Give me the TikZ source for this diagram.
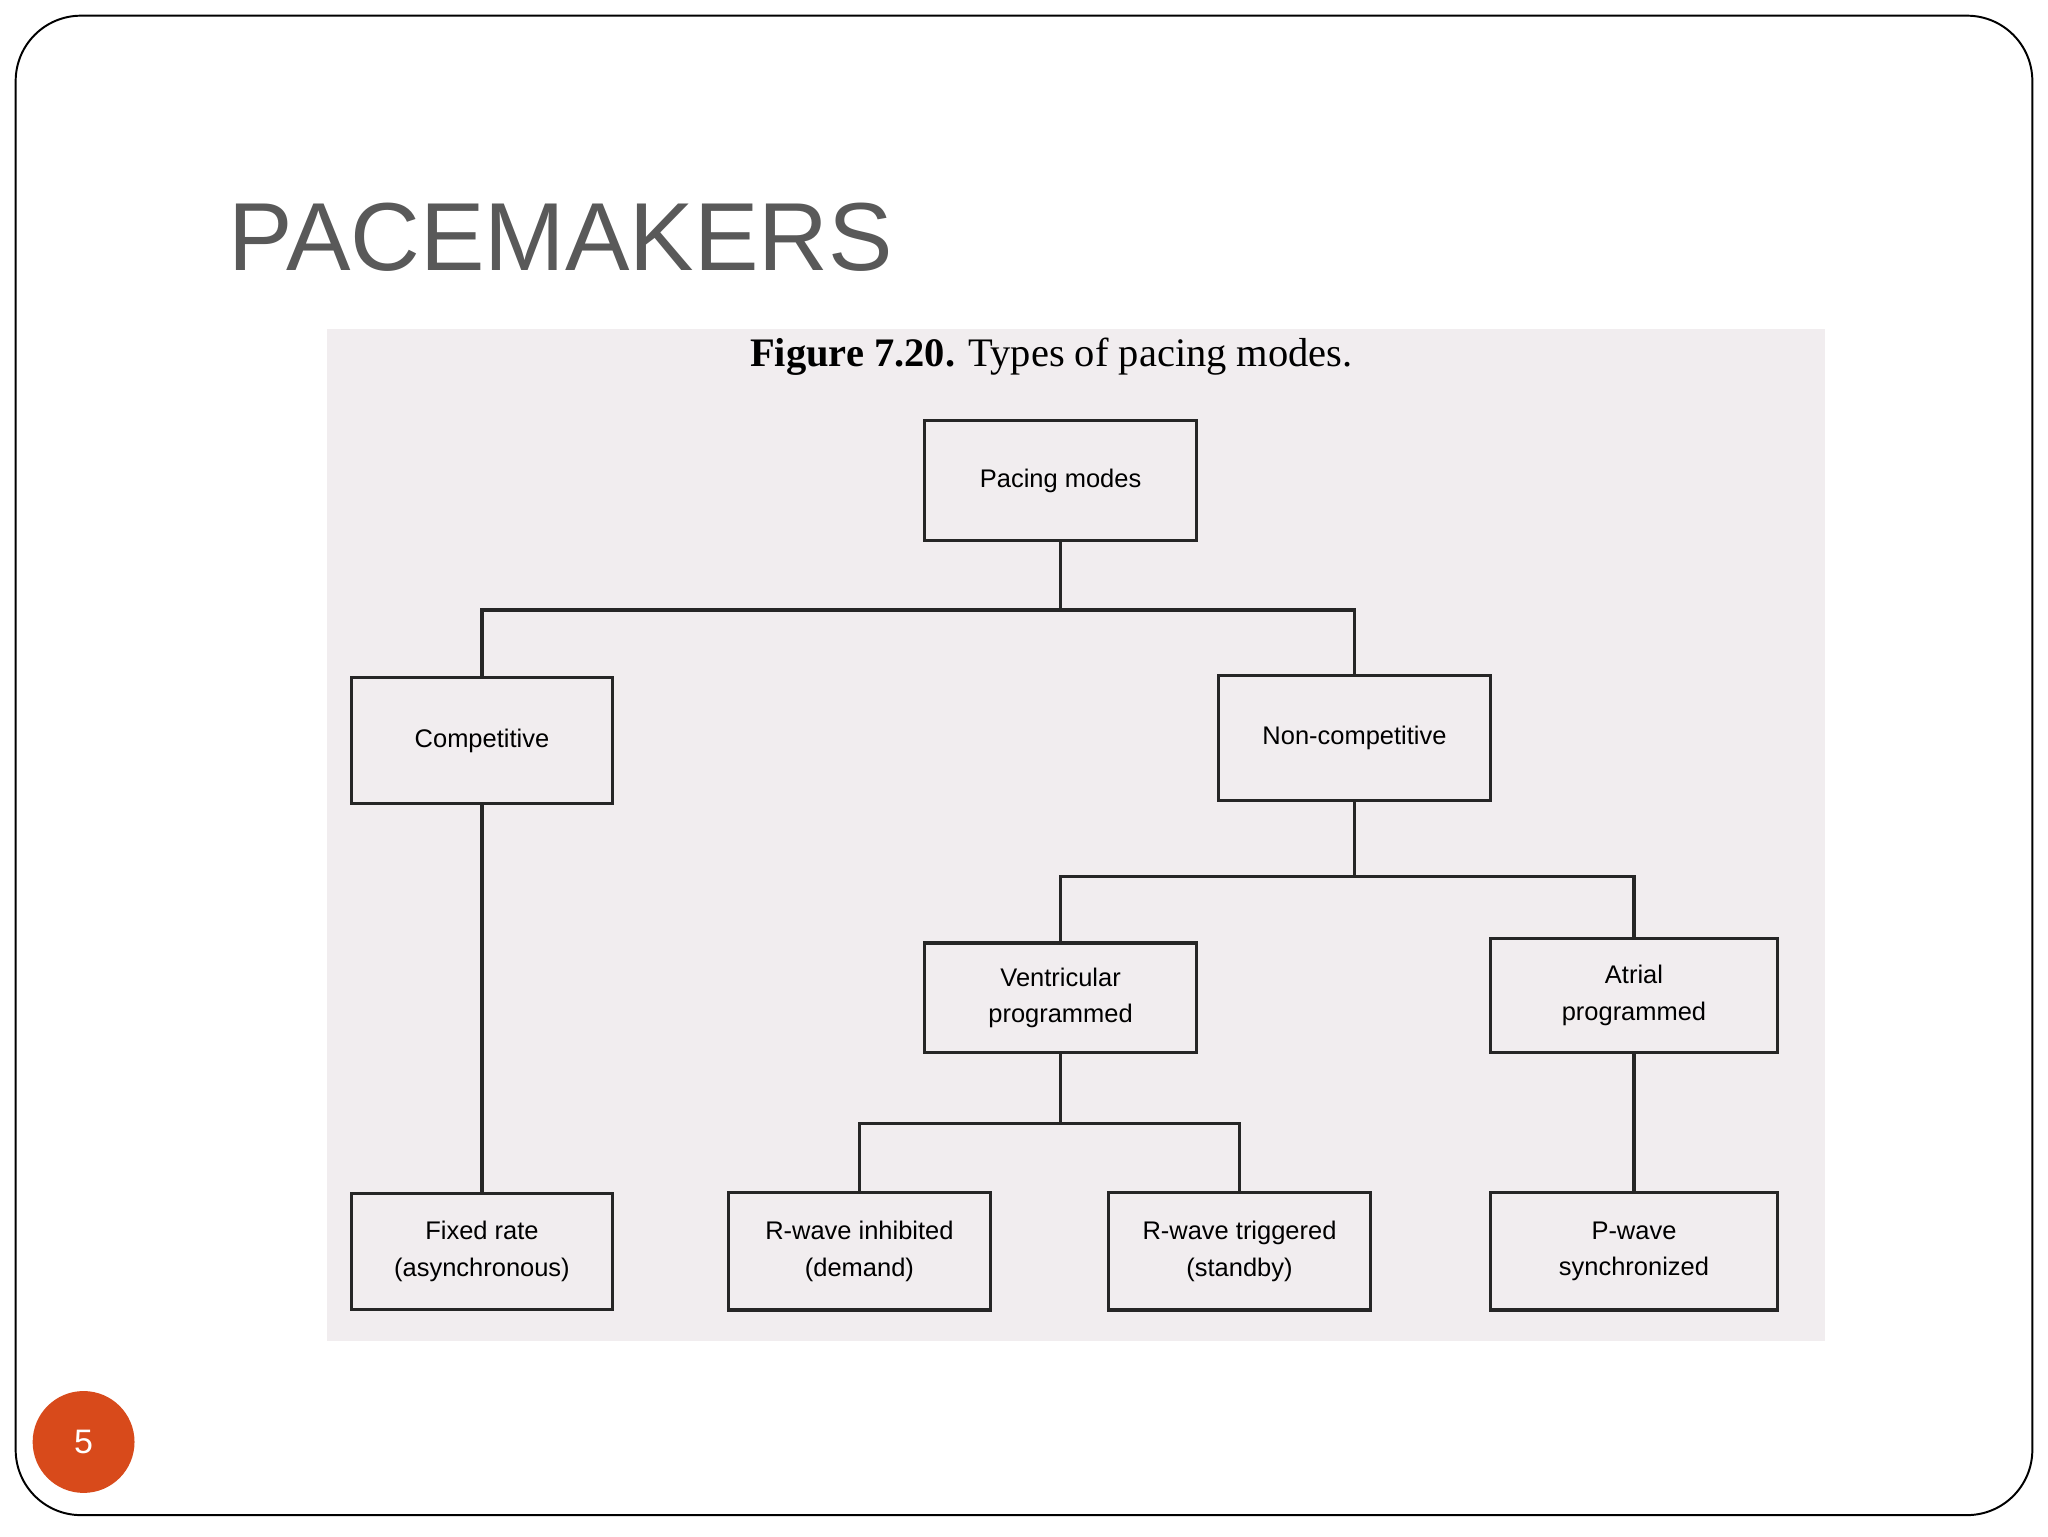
\documentclass[tikz,border=0pt]{standalone}
\usepackage{fontspec}
\setmainfont{Liberation Serif}
\newfontfamily\boxfont{Liberation Sans}
\definecolor{figbg}{HTML}{F1EDEF}
\definecolor{titlegray}{HTML}{595959}
\definecolor{badge}{HTML}{D84A1B}
\begin{document}
\begin{tikzpicture}[x=1pt,y=-1pt,
  mbox/.style={draw=black!85,line width=2.4pt,fill=figbg,align=center,font=\boxfont\fontsize{19.5}{28}\selectfont,inner sep=0pt},
  conn/.style={draw=black!85,line width=2.4pt}]
\useasboundingbox (0,0) rectangle (1568,1176);
\fill[white] (0,0) rectangle (1568,1176);
\draw[line width=1.5pt,rounded corners=50pt] (12,12) rectangle (1556,1160);
\node[anchor=base west,font=\boxfont\fontsize{74}{84}\selectfont,text=titlegray,inner sep=0pt] (title) at (175,207) {PACEMAKERS};
\fill[figbg] (250,252) rectangle (1397,1027);
\node[font=\fontsize{31}{36}\selectfont,inner sep=0pt] (cap) at (805,273) {\textbf{Figure 7.20.} Types of pacing modes.};
\node[mbox,minimum width=208pt,minimum height=92pt] (pm) at (812,368) {Pacing modes};
\node[mbox,minimum width=200pt,minimum height=96pt] (comp) at (369,567) {Competitive};
\node[mbox,minimum width=208pt,minimum height=96pt] (nc) at (1037,565) {Non-competitive};
\node[mbox,minimum width=208pt,minimum height=84pt] (vp) at (812,764) {Ventricular\\programmed};
\node[mbox,minimum width=220pt,minimum height=87pt] (ap) at (1251,762) {Atrial\\programmed};
\node[mbox,minimum width=200pt,minimum height=89pt] (fr) at (369,958) {Fixed rate\\(asynchronous)};
\node[mbox,minimum width=201pt,minimum height=90pt] (ri) at (658,958) {R-wave inhibited\\(demand)};
\node[mbox,minimum width=201pt,minimum height=90pt] (rt) at (949,958) {R-wave triggered\\(standby)};
\node[mbox,minimum width=220pt,minimum height=90pt] (pw) at (1251,958) {P-wave\\synchronized};
\coordinate (j1) at (812,467);
\coordinate (j2) at (1037,671);
\coordinate (j3) at (812,860);
\draw[conn] (pm.south) -- (j1);
\draw[conn] (comp.north) |- (j1) -| (nc.north);
\draw[conn] (comp.south) -- (fr.north);
\draw[conn] (nc.south) -- (j2);
\draw[conn] (vp.north) |- (j2) -| (ap.north);
\draw[conn] (vp.south) -- (j3);
\draw[conn] (ri.north) |- (j3) -| (rt.north);
\draw[conn] (ap.south) -- (pw.north);
\node[circle,fill=badge,minimum size=78pt,inner sep=0pt,text=white,font=\boxfont\fontsize{26}{30}\selectfont] (pg) at (64,1104) {5};
\end{tikzpicture}
\end{document}
